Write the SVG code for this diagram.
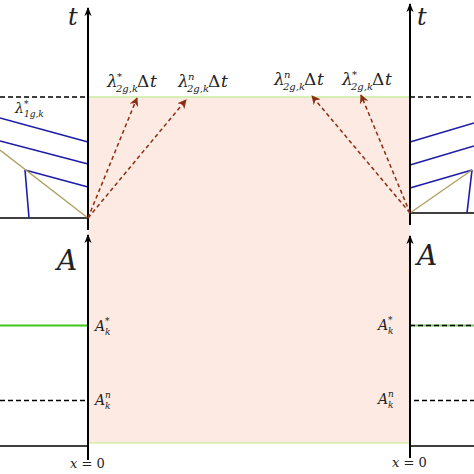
<svg xmlns="http://www.w3.org/2000/svg" width="474" height="474" viewBox="0 0 474 474">
<defs>
<style>
.ax{stroke:#000;stroke-width:2;fill:none}
.thin{stroke:#000;stroke-width:1.3;fill:none}
.dash{stroke:#000;stroke-width:1.3;stroke-dasharray:5,3;fill:none}
.blue{stroke:#1c1ca8;stroke-width:1.6;fill:none}
.olive{stroke:#b0a064;stroke-width:1.4;fill:none}
.arr{stroke:#8b2d12;stroke-width:1.5;stroke-dasharray:4,3;fill:none;marker-end:url(#ah)}
text{font-family:"DejaVu Serif",serif;font-style:italic;fill:#222}
tspan.u{font-style:normal}
</style>
<marker id="ah" viewBox="0 0 10 10" refX="9" refY="5" markerWidth="9" markerHeight="9" orient="auto" markerUnits="userSpaceOnUse">
<path d="M0,0 L10,5 L0,10 L3,5 Z" fill="#8b2d12"/>
</marker>
<marker id="ak" viewBox="0 0 10 10" refX="9" refY="5" markerWidth="9" markerHeight="9" orient="auto" markerUnits="userSpaceOnUse">
<path d="M0,1 L10,5 L0,9 L3,5 Z" fill="#000"/>
</marker>
</defs>
<rect width="474" height="474" fill="#fff"/>
<g id="pink-region">
<rect x="88" y="97" width="322" height="346" fill="#fdeae3"/>
<line x1="88" y1="97" x2="410" y2="97" stroke="#c8eca0" stroke-width="1.5"/>
<line x1="88" y1="443" x2="410" y2="443" stroke="#d4eca8" stroke-width="1.5"/>
</g>
<g id="left-top-panel">
<line class="dash" x1="0" y1="97" x2="88" y2="97"/>
<line class="thin" x1="0" y1="218" x2="88" y2="218"/>
<line class="blue" x1="0" y1="118" x2="88" y2="142"/>
<line class="blue" x1="0" y1="141" x2="88" y2="164"/>
<line class="blue" x1="25" y1="170" x2="88" y2="187"/>
<line class="blue" x1="25" y1="170" x2="29" y2="218"/>
<line class="olive" x1="0" y1="150" x2="88" y2="218"/>
<line class="ax" x1="88" y1="230" x2="88" y2="8" marker-end="url(#ak)"/>
<text x="68" y="25" font-size="24">t</text>
<text x="15" y="113" font-size="14">λ<tspan x="24" y="107" font-size="9">*</tspan><tspan x="24" y="117" font-size="9">1g,k</tspan></text>
</g>
<g id="right-top-panel">
<line class="dash" x1="410" y1="97" x2="474" y2="97"/>
<line class="thin" x1="410" y1="213" x2="474" y2="213"/>
<line class="blue" x1="410" y1="142" x2="474" y2="123"/>
<line class="blue" x1="410" y1="165" x2="474" y2="146"/>
<line class="blue" x1="410" y1="188" x2="472" y2="170"/>
<line class="blue" x1="472" y1="170" x2="467" y2="213"/>
<line class="olive" x1="410" y1="213" x2="472" y2="170"/>
<line class="ax" x1="410" y1="225" x2="410" y2="4" marker-end="url(#ak)"/>
<text x="417" y="25" font-size="24">t</text>
</g>
<g id="connectors">
<line class="arr" x1="88" y1="218" x2="137" y2="98"/>
<line class="arr" x1="88" y1="218" x2="186" y2="100"/>
<line class="arr" x1="410" y1="213" x2="312" y2="96"/>
<line class="arr" x1="410" y1="213" x2="361" y2="95"/>
</g>
<g id="label-l1">
<text x="107" y="87" font-size="17">λ<tspan x="117" y="80" font-size="10">*</tspan><tspan x="116" y="92" font-size="10">2g,k</tspan><tspan class="u" x="137" y="87">Δ</tspan><tspan x="150" y="87">t</tspan></text>
</g>
<g id="label-l2">
<text x="178" y="87" font-size="17">λ<tspan x="188" y="80" font-size="10">n</tspan><tspan x="187" y="92" font-size="10">2g,k</tspan><tspan class="u" x="208" y="87">Δ</tspan><tspan x="221" y="87">t</tspan></text>
</g>
<g id="label-r1">
<text x="274" y="85" font-size="17">λ<tspan x="284" y="78" font-size="10">n</tspan><tspan x="283" y="90" font-size="10">2g,k</tspan><tspan class="u" x="304" y="85">Δ</tspan><tspan x="317" y="85">t</tspan></text>
</g>
<g id="label-r2">
<text x="342" y="85" font-size="17">λ<tspan x="352" y="78" font-size="10">*</tspan><tspan x="351" y="90" font-size="10">2g,k</tspan><tspan class="u" x="372" y="85">Δ</tspan><tspan x="385" y="85">t</tspan></text>
</g>
<g id="left-bottom-panel">
<line class="thin" x1="0" y1="446" x2="88" y2="446"/>
<line x1="0" y1="325.5" x2="88" y2="325.5" stroke="#3ec81a" stroke-width="1.8"/>
<line class="dash" x1="0" y1="400.5" x2="88" y2="400.5" stroke-width="1.6"/>
<line class="ax" x1="88" y1="460" x2="88" y2="235" marker-end="url(#ak)"/>
<text x="57" y="270" font-size="28">A</text>
<text x="95" y="331" font-size="14">A<tspan x="105" y="324" font-size="9">*</tspan><tspan x="105" y="335" font-size="9">k</tspan></text>
<text x="95" y="405" font-size="14">A<tspan x="105" y="398" font-size="9">n</tspan><tspan x="105" y="409" font-size="9">k</tspan></text>
<text x="70" y="468" font-size="13">x <tspan class="u">= 0</tspan></text>
</g>
<g id="right-bottom-panel">
<line class="thin" x1="410" y1="446" x2="474" y2="446"/>
<line x1="410" y1="325.5" x2="474" y2="325.5" stroke="#7cc860" stroke-width="1.8"/>
<line class="dash" x1="410" y1="325.5" x2="474" y2="325.5" stroke-width="1.4"/>
<line class="dash" x1="414" y1="400.5" x2="474" y2="400.5" stroke-width="1.6"/>
<line class="ax" x1="410" y1="458" x2="410" y2="236" marker-end="url(#ak)"/>
<text x="417" y="265" font-size="28">A</text>
<text x="378" y="330" font-size="14">A<tspan x="388" y="323" font-size="9">*</tspan><tspan x="388" y="334" font-size="9">k</tspan></text>
<text x="378" y="404" font-size="14">A<tspan x="388" y="397" font-size="9">n</tspan><tspan x="388" y="408" font-size="9">k</tspan></text>
<text x="392" y="467" font-size="13">x <tspan class="u">= 0</tspan></text>
</g>
</svg>
